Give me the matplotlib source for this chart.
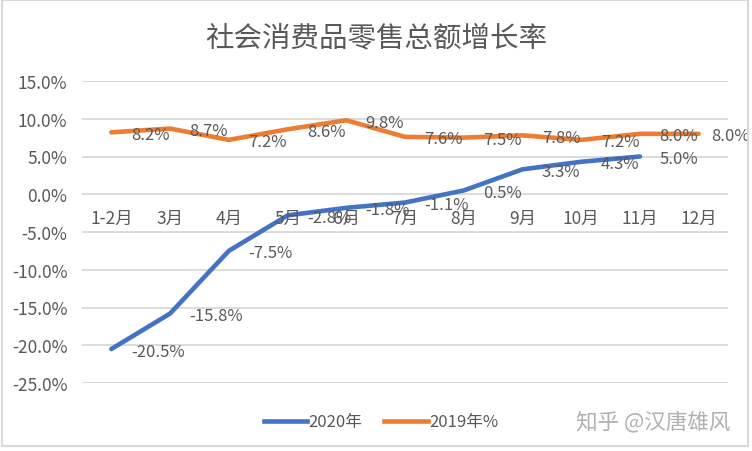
import matplotlib
matplotlib.use('Agg')
import matplotlib.pyplot as plt
from matplotlib.lines import Line2D
from matplotlib.patches import Rectangle

plt.rcParams['font.family'] = ['Noto Sans CJK SC', 'DejaVu Sans']

# data
months = ['1-2月', '3月', '4月', '5月', '6月', '7月', '8月', '9月', '10月', '11月', '12月']
y2020 = [-20.5, -15.8, -7.5, -2.8, -1.8, -1.1, 0.5, 3.3, 4.3, 5.0]
y2019 = [8.2, 8.7, 7.2, 8.6, 9.8, 7.6, 7.5, 7.8, 7.2, 8.0, 8.0]
yticks = [15, 10, 5, 0, -5, -10, -15, -20, -25]

BLUE = '#4472C4'
ORANGE = '#ED7D31'
TXT = '#595959'

fig = plt.figure(figsize=(7.52, 4.52), dpi=100)
# light border around the whole chart
fig.patches.append(Rectangle((0.003, 0.012), 0.992, 0.985, transform=fig.transFigure,
                             fill=False, edgecolor='#D9D9D9', linewidth=1.5))

ax = fig.add_axes([82 / 752, (452 - 384) / 452, 646 / 752, 302 / 452])
ax.set_xlim(-0.5, len(months) - 0.5)
ax.set_ylim(-25, 15)
ax.set_yticks(yticks)
ax.set_yticklabels(['%.1f%%' % v for v in yticks], fontsize=12.5, color=TXT)
ax.tick_params(axis='y', length=0, pad=10.5)
ax.set_xticks([])
for s in ax.spines.values():
    s.set_visible(False)
ax.grid(axis='y', color='#D9D9D9', linewidth=1.3)
ax.set_axisbelow(True)

ax.plot(range(len(y2020)), y2020, color=BLUE, linewidth=3.3, solid_capstyle='round')
ax.plot(range(len(y2019)), y2019, color=ORANGE, linewidth=3.3, solid_capstyle='round')

# category labels sit just under the 0 line
for i, m in enumerate(months):
    ax.text(i, -3.1, m, ha='center', va='center', fontsize=12.5, color=TXT)

# data labels, to the right of each point
for i, v in enumerate(y2020):
    ax.annotate('%.1f%%' % v, (i, v), xytext=(14, -1.5), textcoords='offset points',
                ha='left', va='center', fontsize=12, color=TXT)
for i, v in enumerate(y2019):
    dx = 9 if i == len(y2019) - 1 else 14
    ax.annotate('%.1f%%' % v, (i, v), xytext=(dx, -1.5), textcoords='offset points',
                ha='left', va='center', fontsize=12, color=TXT)

fig.text(0.5, (452 - 38) / 452, '社会消费品零售总额增长率', ha='center', va='center',
         fontsize=20.5, color=TXT)

handles = [Line2D([], [], color=BLUE, linewidth=3.3), Line2D([], [], color=ORANGE, linewidth=3.3)]
fig.legend(handles, ['2020年', '2019年%'], loc='center', bbox_to_anchor=(381 / 752, (452 - 423) / 452),
           ncol=2, frameon=False, fontsize=12, handlelength=2.6, handletextpad=0.1,
           columnspacing=1.3, labelcolor=TXT)

fig.text(730 / 752, (452 - 423) / 452, '知乎 @汉唐雄风', ha='right', va='center',
         fontsize=15.5, color='#B0B0B0')

fig.savefig('out.png', dpi=100)
